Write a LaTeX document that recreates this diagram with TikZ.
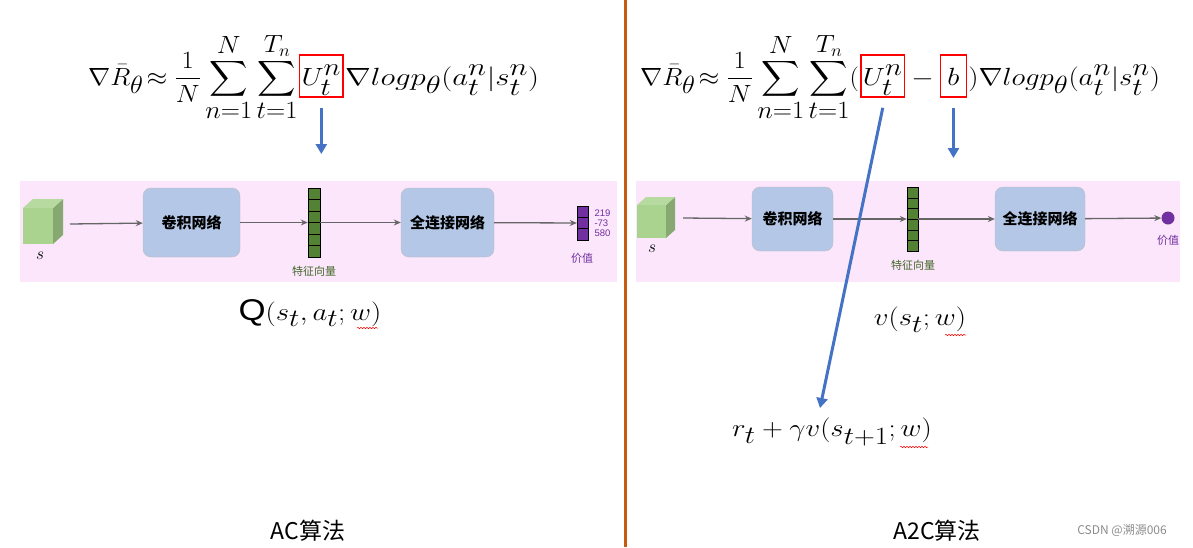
\documentclass[tikz,border=0pt]{standalone}
\usepackage{fontspec}
\usepackage{amsmath}
\newfontfamily\cjk{Noto Sans CJK SC}
\newfontfamily\sansf{Liberation Sans}
\usetikzlibrary{arrows.meta,decorations.pathmorphing}
\definecolor{pinkbg}{RGB}{251,230,251}
\definecolor{boxblue}{RGB}{180,199,231}
\definecolor{cubegreen}{RGB}{169,211,142}
\definecolor{featg}{RGB}{84,130,53}
\definecolor{purp}{RGB}{112,48,160}
\definecolor{arrblue}{RGB}{68,114,196}
\definecolor{divor}{RGB}{197,90,17}
\newcommand{\widen}[1]{\scalebox{1.16}[1]{#1}}
\newcommand{\widenA}[1]{\scalebox{1.07}[1]{#1}}
\newcommand{\widenB}[1]{\scalebox{1.24}[1]{#1}}
\tikzset{
 fpart/.style={inner sep=0pt,anchor=base west,font=\fontsize{34}{40}\selectfont},
 redbox/.style={draw=red,line width=1.6pt,inner sep=2pt,text height=28pt,text depth=10pt},
 bluearr/.style={draw=arrblue,line width=3pt,-{Triangle[length=10pt,width=11pt]}},
 grayarr/.style={draw=black!60,line width=1.3pt,-{Stealth[length=7pt,width=6pt]}},
 net/.style={fill=boxblue,rounded corners=8pt,draw=black!25},
 cell/.style={draw=black,line width=0.4pt},
 netlab/.style={font=\cjk\bfseries\fontsize{15}{18}\selectfont},
 small/.style={font=\cjk\fontsize{11}{13}\selectfont},
 caption/.style={font=\cjk\fontsize{23}{27}\selectfont},
 big/.style={font=\fontsize{36}{42}\selectfont},
 wavy/.style={draw=red,line width=0.5pt,decorate,decoration={snake,amplitude=0.7pt,segment length=3pt}}
}
\begin{document}
\begin{tikzpicture}[x=1pt,y=-1pt]
\useasboundingbox (0,0) rectangle (1193,547);
\fill[white] (0,0) rectangle (1193,547);
\draw[divor,line width=3pt] (625,0) -- (625,547);

% ---------- LEFT ----------
\node[fpart] (fl1) at (88,85) {\widenA{$\nabla\bar{R}_\theta\!\approx\dfrac{1}{N}\displaystyle\sum_{n=1}^{N}\sum_{t=1}^{T_n}$}};
\node[fpart,redbox,anchor=base west] (rl) at ([xshift=1pt]fl1.base east) {\widen{$U_t^n$}};
\node[fpart] (fl2) at ([xshift=1pt]rl.base east) {\widenB{$\nabla logp_\theta(a_t^n|s_t^n)$}};
\coordinate (la2) at (319,154);
\draw[bluearr] ([yshift=-10pt]rl.south) -- (rl.south |- la2);
\fill[pinkbg] (20,181) rectangle (617,282);
% cube
\fill[cubegreen!80!black] (53,208) -- (63,199) -- (63,235) -- (53,244) -- cycle;
\fill[cubegreen!85!white] (23,208) -- (33,199) -- (63,199) -- (53,208) -- cycle;
\fill[cubegreen] (23,208) rectangle (53,244);
\node[font=\fontsize{16}{18}\selectfont] (sl) at (40,256) {$s$};
\node[net,minimum width=97pt,minimum height=69pt,netlab] (convl) at (191.5,222.5) {卷积网络};
\foreach \i in {0,...,5} \fill[featg,cell] (308,188+\i*11.5) rectangle (320,199.5+\i*11.5);
\node[inner sep=0,minimum width=12pt,minimum height=69pt] (featl) at (314,222.5) {};
\node[small,text=featg!80!black] at (314,271) {特征向量};
\node[net,minimum width=93pt,minimum height=69pt,netlab] (fcl) at (447.5,222.5) {全连接网络};
\foreach \i in {0,...,2} \fill[purp,cell] (577,206+\i*11.3) rectangle (588,217.3+\i*11.3);
\node[inner sep=0,minimum width=11pt,minimum height=34pt] (outl) at (582.5,223) {};
\node[font=\sansf\fontsize{9.5}{11}\selectfont,text=purp,align=left,anchor=west] at (591,223) {219\\[-1pt]-73\\[-1pt]580};
\node[small,text=purp] at (582,258) {价值};
\draw[grayarr] (70,224) -- (convl);
\draw[grayarr] (convl) -- (featl);
\draw[grayarr] (featl) -- (fcl);
\draw[grayarr] (fcl) -- (outl);
\node[big] (ql) at (310,313) {\widen{{\sansf\fontsize{30}{36}\selectfont Q}$(s_t,a_t;w)$}};
\draw[wavy] (357,328) -- (378,328);
\node[caption] (capl) at (308,531) {AC算法};

% ---------- RIGHT ----------
\node[fpart] (fr1) at (640,85) {\widenA{$\nabla\bar{R}_\theta\!\approx\dfrac{1}{N}\displaystyle\sum_{n=1}^{N}\sum_{t=1}^{T_n}($}};
\node[fpart,redbox] (ru) at ([xshift=1pt]fr1.base east) {\widen{$U_t^n$}};
\node[fpart] (fr2) at ([xshift=1pt]ru.base east) {\widen{$\,-\,$}};
\node[fpart,redbox] (rb) at ([xshift=1pt]fr2.base east) {\widen{$\,b\,$}};
\node[fpart] (fr3) at ([xshift=1pt]rb.base east) {\widen{$)\nabla logp_\theta(a_t^n|s_t^n)$}};
\coordinate (ra2) at (950,158);
\draw[bluearr] ([yshift=-10pt]rb.south) -- (rb.south |- ra2);
\fill[pinkbg] (636,181) rectangle (1180,282);
\fill[cubegreen!80!black] (666,205) -- (675,197) -- (675,230) -- (666,238) -- cycle;
\fill[cubegreen!85!white] (637,205) -- (646,197) -- (675,197) -- (666,205) -- cycle;
\fill[cubegreen] (637,205) rectangle (666,238);
\node[font=\fontsize{16}{18}\selectfont] (sr) at (652,249) {$s$};
\node[net,minimum width=81pt,minimum height=64pt,netlab] (convr) at (792.5,219) {卷积网络};
\foreach \i in {0,...,5} \fill[featg,cell] (907,187+\i*10.7) rectangle (918,197.7+\i*10.7);
\node[inner sep=0,minimum width=11pt,minimum height=64pt] (featr) at (912.5,219) {};
\node[small,text=featg!80!black] at (913,265) {特征向量};
\node[net,minimum width=90pt,minimum height=64pt,netlab] (fcr) at (1040,219) {全连接网络};
\node[circle,fill=purp,minimum size=13pt,inner sep=0] (outr) at (1168,218) {};
\node[small,text=purp] at (1168,240) {价值};
\draw[grayarr] (683,218) -- (convr);
\draw[grayarr] (convr) -- (featr);
\draw[grayarr] (featr) -- (fcr);
\draw[grayarr] (fcr) -- (outr);
\node[big] (vr) at (920,320) {\widen{$v(s_t;w)$}};
\node[big] (tr) at (832,432) {\widen{$r_t+\gamma v(s_{t+1};w)$}};
\draw[wavy] (945,335) -- (966,335);
\draw[wavy] (900,447) -- (928,447);
\coordinate (lb2) at (820,408);
\draw[bluearr] ([yshift=-10pt]ru.south) -- (lb2);
\node[caption] (capr) at (937,531) {A2C算法};
\node[font=\cjk\fontsize{12}{14}\selectfont,text=black!45] (csdn) at (1122,530) {CSDN @溯源006};
\end{tikzpicture}
\end{document}
